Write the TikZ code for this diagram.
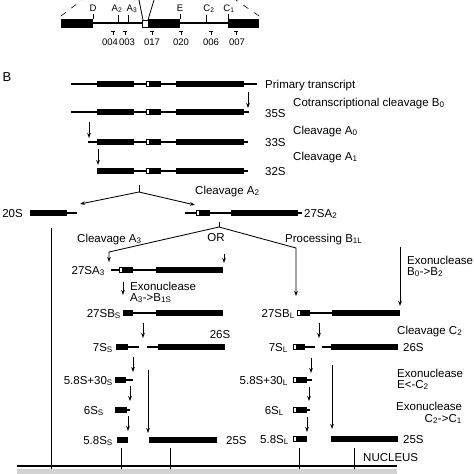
\documentclass[tikz,border=0pt]{standalone}
\usepackage{fontspec}
\setmainfont{Liberation Sans}
\usetikzlibrary{arrows.meta, positioning}

% RNA pieces: black segment, segment with open 5' end, spacer line
\newcommand{\rnablk}[3]{\fill (#1,#3-3) rectangle (#2,#3+3);}
\newcommand{\rnaopen}[3]{\fill (#1,#3-3) rectangle (#2,#3+3);
  \draw[line width=0.6pt, fill=white] (#1+0.3,#3-2.6) rectangle (#1+3.4,#3+2.6);}
\newcommand{\rnaline}[3]{\draw[rna] (#1,#3) -- (#2,#3);}
% cleavage arrow between two named coordinates
\newcommand{\cutarrow}[4]{\coordinate (#1s) at (#2,#3); \coordinate (#1e) at (#2,#4);
  \draw[cut] (#1s) -- (#1e);}

\begin{document}
\begin{tikzpicture}[x=1pt, y=-1pt,
    rna/.style={line width=1.2pt},
    cut/.style={->, >={Stealth[length=5pt, width=3.6pt]}, line width=0.85pt},
    tree/.style={line width=0.85pt},
    lbl/.style={inner sep=0pt, font=\fontsize{11.5}{13}\selectfont, text height=8.2pt, text depth=0pt},
    tag/.style={inner sep=0pt, font=\fontsize{9.5}{11}\selectfont, text height=6.8pt, text depth=0pt}
  ]
  \useasboundingbox (0,0) rectangle (474,474);

  % Gene map (cropped panel A)
  \draw[dash pattern=on 6pt off 7pt, line width=0.6pt] (61,16) -- (82,0);
  \draw[dash pattern=on 6pt off 7pt, line width=0.6pt] (259,16) -- (236,0);
  \draw[line width=0.8pt] (143,20) -- (139,0);
  \draw[line width=0.8pt] (148,20) -- (154,0);
  \draw[line width=1.5pt] (93,23) -- (228,23);
  \fill (61,19) rectangle (93,28);
  \fill (148,19) rectangle (180,28);
  \fill (228,19) rectangle (259,28);
  \draw[line width=0.8pt, fill=white] (142,20) rectangle (148,27);
  \foreach \x in {118,128,206} \draw[line width=0.7pt] (\x,15) -- (\x,23);
  \foreach \x in {93,180,228} \draw[line width=0.7pt] (\x,14) -- (\x,19);
  \node[tag] (mapD) at (93,8) {D};
  \node[tag] (mapA2) at (117,8) {A\textsubscript{2}};
  \node[tag] (mapA3) at (132,8) {A\textsubscript{3}};
  \node[tag] (mapE) at (180,8) {E};
  \node[tag] (mapC2) at (209,8) {C\textsubscript{2}};
  \node[tag] (mapC1) at (229,8) {C\textsubscript{1}};
  \foreach \x/\n/\t in {113/004/110,125/003/127,152/017/152,181/020/181,211/006/211,236/007/237} {
    \draw[line width=0.7pt] (\x-2,31) -- (\x+2,31) (\x,31) -- (\x,35);
    \node[tag] (probe\n) at (\t,42) {\n};
  }

  % Panel B
  \node[inner sep=0pt, font=\fontsize{13}{15}\selectfont] (panelB) at (7,77) {B};

  % Primary transcript to 32S
  \rnaline{71}{257}{84}
  \rnaline{71}{249}{112}
  \rnaline{88}{248}{142}
  \rnaline{97}{248}{171}
  \foreach \y in {84,112,142,171} {
    \rnablk{97}{134}{\y}
    \rnaopen{146}{161}{\y}
    \rnablk{176}{244}{\y}
  }
  \node[lbl, anchor=west] (primary) at (265,84) {Primary transcript};
  \node[lbl, anchor=west] (cutB0) at (293,102) {Cotranscriptional cleavage B\textsubscript{0}};
  \node[lbl, anchor=west] (r35S) at (265,113) {35S};
  \node[lbl, anchor=west] (cutA0) at (293,130) {Cleavage A\textsubscript{0}};
  \node[lbl, anchor=west] (r33S) at (265,142) {33S};
  \node[lbl, anchor=west] (cutA1) at (293,156) {Cleavage A\textsubscript{1}};
  \node[lbl, anchor=west] (r32S) at (265,171) {32S};
  \cutarrow{aB0}{248}{92}{108}
  \cutarrow{aA0}{89}{122}{138}
  \cutarrow{aA1}{98}{149}{165}

  % Cleavage A2
  \coordinate (a2top) at (139,185);
  \coordinate (a2fork) at (139,192);
  \coordinate (a2left) at (80,204);
  \coordinate (a2right) at (195,205);
  \draw[tree] (a2top) -- (a2fork);
  \draw[cut] (a2fork) -- (a2left);
  \draw[cut] (a2fork) -- (a2right);
  \node[lbl, anchor=west] (cutA2) at (195,190) {Cleavage A\textsubscript{2}};

  \node[lbl, anchor=east] (r20S) at (23,213) {20S};
  \rnablk{30}{67}{213}
  \rnaline{67}{77}{213}
  \rnaline{185}{302}{213}
  \rnaopen{196}{210}{213}
  \rnablk{231}{298}{213}
  \node[lbl, anchor=west] (r27SA2) at (304,213) {27SA\textsubscript{2}};

  % A3 or B1L
  \coordinate (ortop) at (219,222);
  \coordinate (orfork) at (219,227);
  \coordinate (a3bend) at (109,252);
  \coordinate (a3end) at (109,262);
  \coordinate (b1bend) at (296,248);
  \coordinate (b1end) at (296,296);
  \draw[tree] (ortop) -- (orfork);
  \draw[cut] (orfork) -- (a3bend) -- (a3end);
  \draw[cut] (orfork) -- (b1bend) -- (b1end);
  \node[lbl] (or) at (216,237) {OR};
  \node[lbl, anchor=west] (cutA3) at (77,238) {Cleavage A\textsubscript{3}};
  \node[lbl, anchor=west] (procB1L) at (285,238) {Processing B\textsubscript{1L}};
  \cutarrow{aA3}{224}{254}{263}

  \node[lbl, anchor=east] (r27SA3) at (105,270) {27SA\textsubscript{3}};
  \rnaline{111}{223}{270}
  \rnaopen{119}{133}{270}
  \rnablk{156}{223}{270}

  \cutarrow{aExoS}{123}{282}{295}
  \node[lbl, anchor=west] (exoS) at (130,286) {Exonuclease};
  \node[lbl, anchor=west] (exoSb) at (130,297) {A\textsubscript{3}->B\textsubscript{1S}};

  \cutarrow{aExoB}{400}{247}{306}
  \node[lbl, anchor=west] (exoB) at (407,260) {Exonuclease};
  \node[lbl, anchor=west] (exoBb) at (407,271) {B\textsubscript{0}->B\textsubscript{2}};

  % 27SB
  \node[lbl, anchor=east] (r27SBS) at (121,313) {27SB\textsubscript{S}};
  \rnaline{133}{156}{313}
  \rnablk{123}{133}{313}
  \rnablk{156}{223}{313}
  \node[lbl, anchor=east] (r27SBL) at (295,313) {27SB\textsubscript{L}};
  \rnaline{310}{332}{313}
  \rnaopen{297}{310}{313}
  \rnablk{332}{400}{313}

  % Cleavage C2
  \cutarrow{aC2S}{143}{323}{338}
  \cutarrow{aC2L}{319}{323}{338}
  \node[lbl, anchor=west] (cutC2) at (397,330) {Cleavage C\textsubscript{2}};
  \node[lbl] (r26Sa) at (220,334) {26S};

  \node[lbl, anchor=east] (r7SS) at (113,347) {7S\textsubscript{S}};
  \rnablk{116}{128}{347}
  \rnaline{128}{139}{347}
  \rnaline{147}{158}{347}
  \rnablk{158}{225}{347}
  \node[lbl, anchor=east] (r7SL) at (288,347) {7S\textsubscript{L}};
  \rnaopen{293}{305}{347}
  \rnaline{305}{315}{347}
  \rnaline{322}{331}{347}
  \rnablk{331}{398}{347}
  \node[lbl, anchor=west] (r26Sb) at (403,347) {26S};

  \cutarrow{aES}{133}{357}{372}
  \cutarrow{aEL}{311}{358}{373}
  \cutarrow{a25S}{148}{370}{433}
  \cutarrow{a25L}{332}{365}{429}
  \node[lbl, anchor=west] (exoE) at (397,373) {Exonuclease};
  \node[lbl, anchor=west] (exoEb) at (397,384) {E<-C\textsubscript{2}};

  \node[lbl, anchor=east] (r30S) at (113,380) {5.8S+30\textsubscript{S}};
  \rnablk{115}{126}{380}
  \rnaline{126}{133}{380}
  \node[lbl, anchor=east] (r30L) at (288,380) {5.8S+30\textsubscript{L}};
  \rnaopen{293}{307}{380}
  \rnaline{307}{312}{380}

  \cutarrow{aCS}{130}{386}{401}
  \cutarrow{aCL}{309}{387}{401}
  \node[lbl, anchor=west] (exoC) at (396,406) {Exonuclease};
  \node[lbl, anchor=east] (exoCb) at (462,418) {C\textsubscript{2}->C\textsubscript{1}};

  \node[lbl, anchor=east] (r6SS) at (104,410) {6S\textsubscript{S}};
  \rnablk{115}{127}{410}
  \rnaline{127}{130}{410}
  \node[lbl, anchor=east] (r6SL) at (284,410) {6S\textsubscript{L}};
  \rnaopen{293}{307}{410}
  \rnaline{307}{310}{410}

  \cutarrow{aFS}{128}{416}{431}
  \cutarrow{aFL}{307}{417}{432}

  \node[lbl, anchor=east] (r58SS) at (113,440) {5.8S\textsubscript{S}};
  \rnablk{117}{128}{440}
  \rnablk{149}{217}{440}
  \node[lbl, anchor=west] (r25Sa) at (226,440) {25S};
  \node[lbl, anchor=east] (r58SL) at (289,439) {5.8S\textsubscript{L}};
  \rnaopen{293}{307}{439}
  \rnablk{331}{398}{439}
  \node[lbl, anchor=west] (r25Sb) at (403,439) {25S};

  % Export to cytoplasm
  \draw[tree] (51,228) -- (51,474);
  \foreach \x in {121,170,299,354} \draw[tree] (\x,448) -- (\x,474);
  \fill[gray!35] (17,469) rectangle (397,474);
  \draw[line width=1.2pt] (17,466) -- (397,466);
  \node[lbl, anchor=west] (nucleus) at (363,457) {NUCLEUS};
\end{tikzpicture}
\end{document}
